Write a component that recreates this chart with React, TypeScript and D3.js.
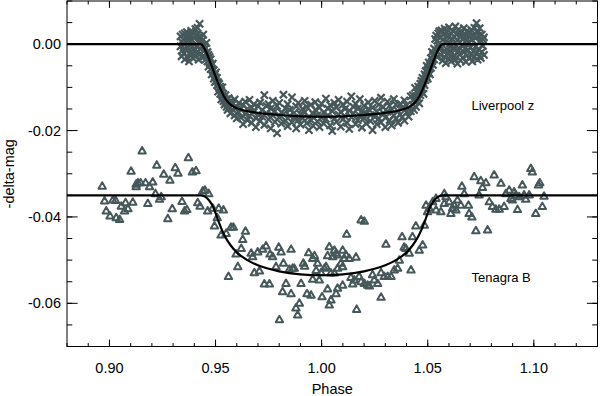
import React from 'react'
import * as d3 from 'd3'

const width = 600
const height = 396
const plot = { left: 67, right: 597.5, top: 1, bottom: 346.5 }
const markColor = '#46585a'

// Liverpool z photometry: [phase, mag, mag] (two frames per phase bin)
const liverpoolRows: number[][] = [
  [0.9335, -0.0005, 0.0018], [0.9340, -0.0028, 0.0006], [0.9345, 0.0022, -0.0014],
  [0.9350, 0.0012, -0.0021], [0.9355, -0.0035, 0.0025], [0.9360, 0.0004, -0.0012],
  [0.9365, 0.0028, -0.0030], [0.9370, -0.0008, 0.0016], [0.9375, 0.0021, -0.0040],
  [0.9380, -0.0019, 0.0007], [0.9385, 0.0031, -0.0026], [0.9390, 0.0010, -0.0006],
  [0.9395, -0.0033, 0.0024], [0.9400, 0.0014, -0.0015], [0.9405, 0.0035, -0.0028],
  [0.9410, -0.0004, 0.0020], [0.9415, 0.0038, -0.0018], [0.9420, 0.0005, -0.0036],
  [0.9425, 0.0047, 0.0019], [0.9428, -0.0010, 0.0002],
  [0.9432, 0.0015, -0.0022], [0.9437, 0.0008, -0.0030], [0.9442, -0.0002, 0.0022],
  [0.9447, -0.0028, -0.0005], [0.9452, -0.0010, -0.0036], [0.9457, -0.0022, 0.0003],
  [0.9462, -0.0040, -0.0018], [0.9467, -0.0025, -0.0052], [0.9472, -0.0044, -0.0030],
  [0.9477, -0.0058, -0.0035], [0.9482, -0.0048, -0.0070], [0.9487, -0.0062, -0.0045],
  [0.9492, -0.0080, -0.0060], [0.9497, -0.0070, -0.0088], [0.9502, -0.0085, -0.0065],
  [0.9507, -0.0095, -0.0078], [0.9512, -0.0088, -0.0110], [0.9517, -0.0102, -0.0092],
  [0.9522, -0.0115, -0.0098], [0.9527, -0.0108, -0.0128], [0.9532, -0.0120, -0.0100],
  [0.9537, -0.0132, -0.0115], [0.9542, -0.0125, -0.0140], [0.9547, -0.0118, -0.0135],
  [0.9552, -0.0145, -0.0128], [0.9557, -0.0138, -0.0152], [0.9562, -0.0125, -0.0148],
  [0.957, -0.0132, -0.0160], [0.958, -0.0151, -0.0139], [0.959, -0.0165, -0.0128],
  [0.960, -0.0145, -0.0172], [0.961, -0.0158, -0.0136], [0.962, -0.0170, -0.0149],
  [0.963, -0.0141, -0.0185], [0.964, -0.0162, -0.0133], [0.965, -0.0150, -0.0176],
  [0.966, -0.0129, -0.0166], [0.967, -0.0182, -0.0147], [0.968, -0.0157, -0.0139],
  [0.969, -0.0171, -0.0192], [0.970, -0.0144, -0.0163], [0.971, -0.0178, -0.0135],
  [0.972, -0.0152, -0.0168], [0.973, -0.0118, -0.0187], [0.974, -0.0160, -0.0143],
  [0.975, -0.0174, -0.0139], [0.976, -0.0149, -0.0195], [0.977, -0.0165, -0.0131],
  [0.978, -0.0180, -0.0155], [0.979, -0.0143, -0.0206], [0.980, -0.0170, -0.0136],
  [0.981, -0.0158, -0.0184], [0.982, -0.0117, -0.0162], [0.983, -0.0149, -0.0177],
  [0.984, -0.0190, -0.0139], [0.985, -0.0166, -0.0152], [0.986, -0.0123, -0.0181],
  [0.987, -0.0159, -0.0170], [0.988, -0.0144, -0.0195], [0.989, -0.0175, -0.0136],
  [0.990, -0.0162, -0.0186], [0.991, -0.0150, -0.0171], [0.992, -0.0131, -0.0158],
  [0.993, -0.0183, -0.0145], [0.994, -0.0168, -0.0199], [0.995, -0.0140, -0.0176],
  [0.996, -0.0161, -0.0189], [0.997, -0.0152, -0.0134], [0.998, -0.0179, -0.0165],
  [0.999, -0.0147, -0.0192], [1.000, -0.0170, -0.0138], [1.001, -0.0158, -0.0184],
  [1.002, -0.0126, -0.0173], [1.003, -0.0165, -0.0149], [1.004, -0.0188, -0.0141],
  [1.005, -0.0155, -0.0201], [1.006, -0.0172, -0.0136], [1.007, -0.0146, -0.0180],
  [1.008, -0.0163, -0.0129], [1.009, -0.0191, -0.0157], [1.010, -0.0140, -0.0174],
  [1.011, -0.0167, -0.0150], [1.012, -0.0182, -0.0133], [1.013, -0.0154, -0.0196],
  [1.014, -0.0121, -0.0169], [1.015, -0.0160, -0.0145], [1.016, -0.0185, -0.0138],
  [1.017, -0.0149, -0.0176], [1.018, -0.0166, -0.0127], [1.019, -0.0193, -0.0155],
  [1.020, -0.0142, -0.0171], [1.021, -0.0160, -0.0184], [1.022, -0.0135, -0.0150],
  [1.023, -0.0178, -0.0164], [1.024, -0.0147, -0.0199], [1.025, -0.0168, -0.0131],
  [1.026, -0.0155, -0.0185], [1.027, -0.0140, -0.0172], [1.028, -0.0181, -0.0124],
  [1.029, -0.0159, -0.0146], [1.030, -0.0170, -0.0192], [1.031, -0.0133, -0.0156],
  [1.032, -0.0176, -0.0143], [1.033, -0.0151, -0.0188], [1.034, -0.0127, -0.0165],
  [1.035, -0.0172, -0.0140], [1.036, -0.0155, -0.0182], [1.037, -0.0138, -0.0163],
  [1.038, -0.0169, -0.0148], [1.039, -0.0130, -0.0177], [1.040, -0.0158, -0.0142],
  [1.041, -0.0147, -0.0168], [1.042, -0.0121, -0.0155],
  [1.0430, -0.0140, -0.0118], [1.0435, -0.0128, -0.0152], [1.0440, -0.0101, -0.0134],
  [1.0445, -0.0145, -0.0120], [1.0450, -0.0112, -0.0131], [1.0455, -0.0125, -0.0098],
  [1.0460, -0.0108, -0.0137], [1.0465, -0.0118, -0.0092], [1.0470, -0.0085, -0.0110],
  [1.0475, -0.0102, -0.0078], [1.0480, -0.0090, -0.0115], [1.0485, -0.0070, -0.0095],
  [1.0490, -0.0083, -0.0062], [1.0495, -0.0075, -0.0050], [1.0500, -0.0058, -0.0080],
  [1.0505, -0.0066, -0.0042], [1.0510, -0.0048, -0.0070], [1.0515, -0.0032, -0.0055],
  [1.0520, -0.0040, -0.0018], [1.0525, -0.0025, -0.0048], [1.0530, -0.0010, -0.0035],
  [1.0535, 0.0012, -0.0022], [1.0540, -0.0015, 0.0020], [1.0545, 0.0008, -0.0030],
  [1.0550, 0.0025, -0.0010], [1.0555, -0.0005, 0.0030],
  [1.0560, 0.0015, -0.0025], [1.0565, 0.0032, -0.0008], [1.0570, -0.0038, 0.0010],
  [1.0575, 0.0022, -0.0017], [1.0580, -0.0030, 0.0036], [1.0585, 0.0006, -0.0044],
  [1.0590, 0.0027, -0.0012], [1.0595, -0.0021, 0.0018], [1.0600, 0.0039, -0.0033],
  [1.0605, 0.0002, -0.0006], [1.0610, -0.0040, 0.0025], [1.0615, 0.0013, -0.0020],
  [1.0620, 0.0030, -0.0009], [1.0625, -0.0028, 0.0017], [1.0630, 0.0041, -0.0036],
  [1.0635, -0.0004, 0.0022], [1.0640, 0.0009, -0.0045], [1.0645, 0.0034, -0.0015],
  [1.0650, -0.0024, 0.0005], [1.0655, 0.0019, -0.0038], [1.0660, 0.0028, -0.0002],
  [1.0665, -0.0031, 0.0012], [1.0670, 0.0037, -0.0019], [1.0675, -0.0010, 0.0024],
  [1.0680, 0.0015, -0.0041], [1.0685, -0.0026, 0.0031], [1.0690, 0.0004, -0.0014],
  [1.0695, 0.0026, -0.0033], [1.0700, -0.0008, 0.0018], [1.0705, 0.0033, -0.0024],
  [1.0710, -0.0040, 0.0010], [1.0715, 0.0021, -0.0016], [1.0720, 0.0038, -0.0029],
  [1.0725, -0.0005, 0.0014], [1.0730, 0.0049, -0.0021], [1.0735, 0.0027, -0.0036],
  [1.0740, -0.0011, 0.0019], [1.0745, 0.0037, -0.0027], [1.0750, 0.0008, -0.0032],
  [1.0755, -0.0018, 0.0022], [1.0760, 0.0011, -0.0004], [1.0765, -0.0025, 0.0016],
]

// Tenagra B photometry: [phase, mag]
const tenagraB: number[][] = [
  [0.8966, -0.0328], [0.8977, -0.0362], [0.9016, -0.0360], [0.9029, -0.0361], [0.8985, -0.0385],
  [0.9003, -0.0397], [0.9032, -0.0401], [0.9048, -0.0405], [0.9056, -0.0374], [0.9076, -0.0366],
  [0.9087, -0.0380], [0.9071, -0.0385], [0.9110, -0.0365], [0.9102, -0.0293], [0.9154, -0.0246],
  [0.9126, -0.0323], [0.9134, -0.0320], [0.9147, -0.0320], [0.9170, -0.0320], [0.9126, -0.0329],
  [0.9189, -0.0329], [0.9204, -0.0318], [0.9181, -0.0368], [0.9223, -0.0279], [0.9256, -0.0300],
  [0.9285, -0.0314], [0.9310, -0.0285], [0.9323, -0.0298], [0.9372, -0.0262], [0.9391, -0.0295],
  [0.9408, -0.0292], [0.9217, -0.0345], [0.9244, -0.0352], [0.9236, -0.0358], [0.9275, -0.0403],
  [0.9296, -0.0380], [0.9342, -0.0363], [0.9354, -0.0385], [0.9365, -0.0382], [0.9416, -0.0366],
  [0.9440, -0.0339], [0.9450, -0.0337], [0.9468, -0.0345], [0.9427, -0.0374], [0.9463, -0.0385],
  [0.9487, -0.0379], [0.9515, -0.0379], [0.9537, -0.0383], [0.9508, -0.0401], [0.9495, -0.0420],
  [0.9526, -0.0441], [0.9550, -0.0437], [0.9573, -0.0423], [0.9584, -0.0423], [0.9641, -0.0432],
  [0.9628, -0.0451], [0.9621, -0.0472], [0.9597, -0.0485], [0.9668, -0.0483], [0.9675, -0.0491],
  [0.9699, -0.0480], [0.9722, -0.0474], [0.9738, -0.0466], [0.9757, -0.0485], [0.9769, -0.0491],
  [0.9798, -0.0469], [0.9809, -0.0480], [0.9856, -0.0474], [0.9605, -0.0514], [0.9561, -0.0537],
  [0.9683, -0.0528], [0.9707, -0.0524], [0.9730, -0.0554], [0.9754, -0.0554], [0.9816, -0.0572],
  [0.9856, -0.0577], [0.9832, -0.0553], [0.9903, -0.0553], [0.9785, -0.0514], [0.9820, -0.0506],
  [0.9863, -0.0518], [0.9914, -0.0506], [0.9920, -0.0513], [0.9931, -0.0577], [0.9950, -0.0580],
  [0.9895, -0.0599], [0.9879, -0.0610], [0.9887, -0.0626], [0.9801, -0.0637], [0.9939, -0.0482],
  [0.9966, -0.0489], [0.9958, -0.0495], [1.0028, -0.0489], [0.9981, -0.0506], [1.0013, -0.0518],
  [0.9974, -0.0523], [0.9997, -0.0528], [0.9958, -0.0543], [0.9989, -0.0545], [1.0002, -0.0584],
  [1.0028, -0.0566], [1.0060, -0.0476], [1.0068, -0.0483], [1.0052, -0.0491], [1.0021, -0.0514],
  [1.0044, -0.0591], [1.0068, -0.0577], [1.0036, -0.0603], [0.9848, -0.0520], [0.9871, -0.0518],
  [1.0036, -0.0468], [1.0075, -0.0487], [1.0099, -0.0476], [1.0115, -0.0487], [1.0130, -0.0495],
  [1.0162, -0.0492], [1.0107, -0.0495], [1.0118, -0.0439], [1.0186, -0.0406], [1.0201, -0.0409],
  [1.0091, -0.0506], [1.0075, -0.0518], [1.0099, -0.0514], [1.0044, -0.0529], [1.0060, -0.0529],
  [1.0138, -0.0539], [1.0154, -0.0545], [1.0146, -0.0554], [1.0177, -0.0537], [1.0186, -0.0549],
  [1.0201, -0.0553], [1.0217, -0.0557], [1.0225, -0.0559], [1.0240, -0.0533], [1.0248, -0.0545],
  [1.0264, -0.0553], [1.0280, -0.0528], [1.0295, -0.0537], [1.0311, -0.0537], [1.0327, -0.0537],
  [1.0342, -0.0522], [1.0358, -0.0518], [1.0099, -0.0557], [1.0075, -0.0564], [1.0280, -0.0585],
  [1.0165, -0.0613], [1.0303, -0.0462], [1.0366, -0.0499], [1.0389, -0.0469], [1.0397, -0.0472],
  [1.0421, -0.0522], [1.0413, -0.0483], [1.0460, -0.0476], [1.0476, -0.0464], [1.0428, -0.0445],
  [1.0444, -0.0420], [1.0379, -0.0445], [1.0484, -0.0418], [1.0492, -0.0372], [1.0507, -0.0379],
  [1.0499, -0.0387], [1.0523, -0.0364], [1.0539, -0.0356], [1.0578, -0.0345], [1.0586, -0.0352],
  [1.0539, -0.0383], [1.0562, -0.0387], [1.0578, -0.0368], [1.0601, -0.0364], [1.0609, -0.0391],
  [1.0617, -0.0379], [1.0633, -0.0383], [1.0625, -0.0372], [1.0640, -0.0360], [1.0656, -0.0372],
  [1.0672, -0.0345], [1.0661, -0.0328], [1.0692, -0.0372], [1.0695, -0.0391], [1.0708, -0.0399],
  [1.0727, -0.0431], [1.0782, -0.0429], [1.0719, -0.0306], [1.0750, -0.0315], [1.0774, -0.0320],
  [1.0758, -0.0331], [1.0813, -0.0302], [1.0845, -0.0321], [1.0742, -0.0348], [1.0790, -0.0364],
  [1.0805, -0.0375], [1.0821, -0.0381], [1.0837, -0.0381], [1.0860, -0.0375], [1.0868, -0.0345],
  [1.0884, -0.0337], [1.0907, -0.0341], [1.0915, -0.0348], [1.0892, -0.0356], [1.0899, -0.0360],
  [1.0931, -0.0352], [1.0946, -0.0325], [1.0954, -0.0348], [1.0962, -0.0358], [1.0978, -0.0348],
  [1.0923, -0.0382], [1.0986, -0.0287], [1.0993, -0.0295], [1.1022, -0.0325], [1.1028, -0.0320],
  [1.1040, -0.0375], [1.1048, -0.0351], [1.1009, -0.0391],
]

// fitted transit models
const liverpoolModel: number[][] = [
  [0.88, 0], [0.943, 0], [0.945, -0.0012], [0.947, -0.0035], [0.9495, -0.0068], [0.952, -0.0100],
  [0.954, -0.0121], [0.956, -0.0135], [0.959, -0.0146], [0.963, -0.0153], [0.970, -0.0159],
  [0.980, -0.0164], [0.990, -0.0167], [1.000, -0.0168], [1.010, -0.0167], [1.020, -0.0164],
  [1.030, -0.0159], [1.037, -0.0153], [1.041, -0.0146], [1.044, -0.0135], [1.046, -0.0121],
  [1.048, -0.0100], [1.0505, -0.0068], [1.053, -0.0035], [1.055, -0.0012], [1.057, 0], [1.13, 0],
]
const tenagraModel: number[][] = [
  [0.88, -0.035], [0.943, -0.035], [0.945, -0.0353], [0.947, -0.0362], [0.949, -0.0378],
  [0.951, -0.0405], [0.953, -0.0430], [0.955, -0.0450], [0.957, -0.0465], [0.960, -0.0482],
  [0.965, -0.0500], [0.970, -0.0512], [0.980, -0.0526], [0.990, -0.0533], [1.000, -0.0535],
  [1.010, -0.0533], [1.020, -0.0526], [1.030, -0.0512], [1.035, -0.0500], [1.040, -0.0482],
  [1.043, -0.0465], [1.045, -0.0450], [1.047, -0.0430], [1.049, -0.0405], [1.051, -0.0378],
  [1.053, -0.0362], [1.055, -0.0353], [1.057, -0.035], [1.13, -0.035],
]

const xMajor = [0.90, 0.95, 1.00, 1.05, 1.10]
const yMajor = [0.00, -0.02, -0.04, -0.06]
const xMinor = d3.range(88, 114).map(d => d / 100)
const yMinor = d3.range(-14, 3).map(d => d * 0.005)

const font = '"Liberation Sans", Arial, Helvetica, sans-serif'

export default function App() {
  const x = d3.scaleLinear().domain([0.88, 1.13]).range([plot.left, plot.right])
  const y = d3.scaleLinear().domain([-0.07, 0.01]).range([plot.bottom, plot.top])

  const liverpoolZ = liverpoolRows.flatMap(r => [[r[0], r[1]], [r[0], r[2]]])

  const line = d3.line<number[]>()
    .x(d => x(d[0]))
    .y(d => y(d[1]))
    .curve(d3.curveMonotoneX)

  const plotH = plot.bottom - plot.top
  const plotW = plot.right - plot.left
  const xLen = 0.02 * plotH
  const yLen = 0.02 * plotW
  const s = 3.6
  const tri = 3.7

  return (
    <svg width={width} height={height} style={{ position: 'absolute', left: 0, top: 0, background: '#fff' }}>
      <g stroke={markColor} fill="none">
        {liverpoolZ.map((d, i) => {
          const cx = x(d[0]), cy = y(d[1])
          return (
            <path key={'l' + i} strokeWidth={2.2} d={`M${cx - s},${cy - s}L${cx + s},${cy + s}M${cx - s},${cy + s}L${cx + s},${cy - s}`} />
          )
        })}
        {tenagraB.map((d, i) => {
          const cx = x(d[0]), cy = y(d[1])
          return (
            <path key={'t' + i} d={`M${cx - tri},${cy + tri * 0.8}L${cx + tri},${cy + tri * 0.8}L${cx},${cy - tri * 0.95}Z`} strokeWidth={2} strokeLinejoin="round" />
          )
        })}
      </g>

      <path d={line(liverpoolModel) || ''} fill="none" stroke="#000" strokeWidth={2.2} />
      <path d={line(tenagraModel) || ''} fill="none" stroke="#000" strokeWidth={2.2} />

      <rect x={plot.left} y={plot.top} width={plotW} height={plotH} fill="none" stroke="#000" strokeWidth={1} />

      <g stroke="#000" strokeWidth={1}>
        {xMinor.map(t => (
          <g key={'xm' + t}>
            <line x1={x(t)} x2={x(t)} y1={plot.bottom} y2={plot.bottom - xLen / 2} />
            <line x1={x(t)} x2={x(t)} y1={plot.top} y2={plot.top + xLen / 2} />
          </g>
        ))}
        {xMajor.map(t => (
          <g key={'xM' + t}>
            <line x1={x(t)} x2={x(t)} y1={plot.bottom} y2={plot.bottom - xLen} />
            <line x1={x(t)} x2={x(t)} y1={plot.top} y2={plot.top + xLen} />
          </g>
        ))}
        {yMinor.map(t => (
          <g key={'ym' + t}>
            <line x1={plot.left} x2={plot.left + yLen / 2} y1={y(t)} y2={y(t)} />
            <line x1={plot.right} x2={plot.right - yLen / 2} y1={y(t)} y2={y(t)} />
          </g>
        ))}
        {yMajor.map(t => (
          <g key={'yM' + t}>
            <line x1={plot.left} x2={plot.left + yLen} y1={y(t)} y2={y(t)} />
            <line x1={plot.right} x2={plot.right - yLen} y1={y(t)} y2={y(t)} />
          </g>
        ))}
      </g>

      <g fontFamily={font} fontSize={14.5} fill="#000">
        {xMajor.map(t => (
          <text key={'xl' + t} x={x(t)} y={372.5} textAnchor="middle">{t.toFixed(2)}</text>
        ))}
        {yMajor.map(t => (
          <text key={'yl' + t} x={61} y={y(t) + 5} textAnchor="end">{t.toFixed(2)}</text>
        ))}
        <text x={(plot.left + plot.right) / 2} y={393.5} textAnchor="middle">Phase</text>
        <text transform={`translate(14,${(plot.top + plot.bottom) / 2}) rotate(-90)`} textAnchor="middle">-delta-mag</text>
      </g>

      <g fontFamily={font} fontSize={13} fill="#000">
        <text x={471.5} y={110}>Liverpool z</text>
        <text x={471.5} y={282}>Tenagra B</text>
      </g>
    </svg>
  )
}
